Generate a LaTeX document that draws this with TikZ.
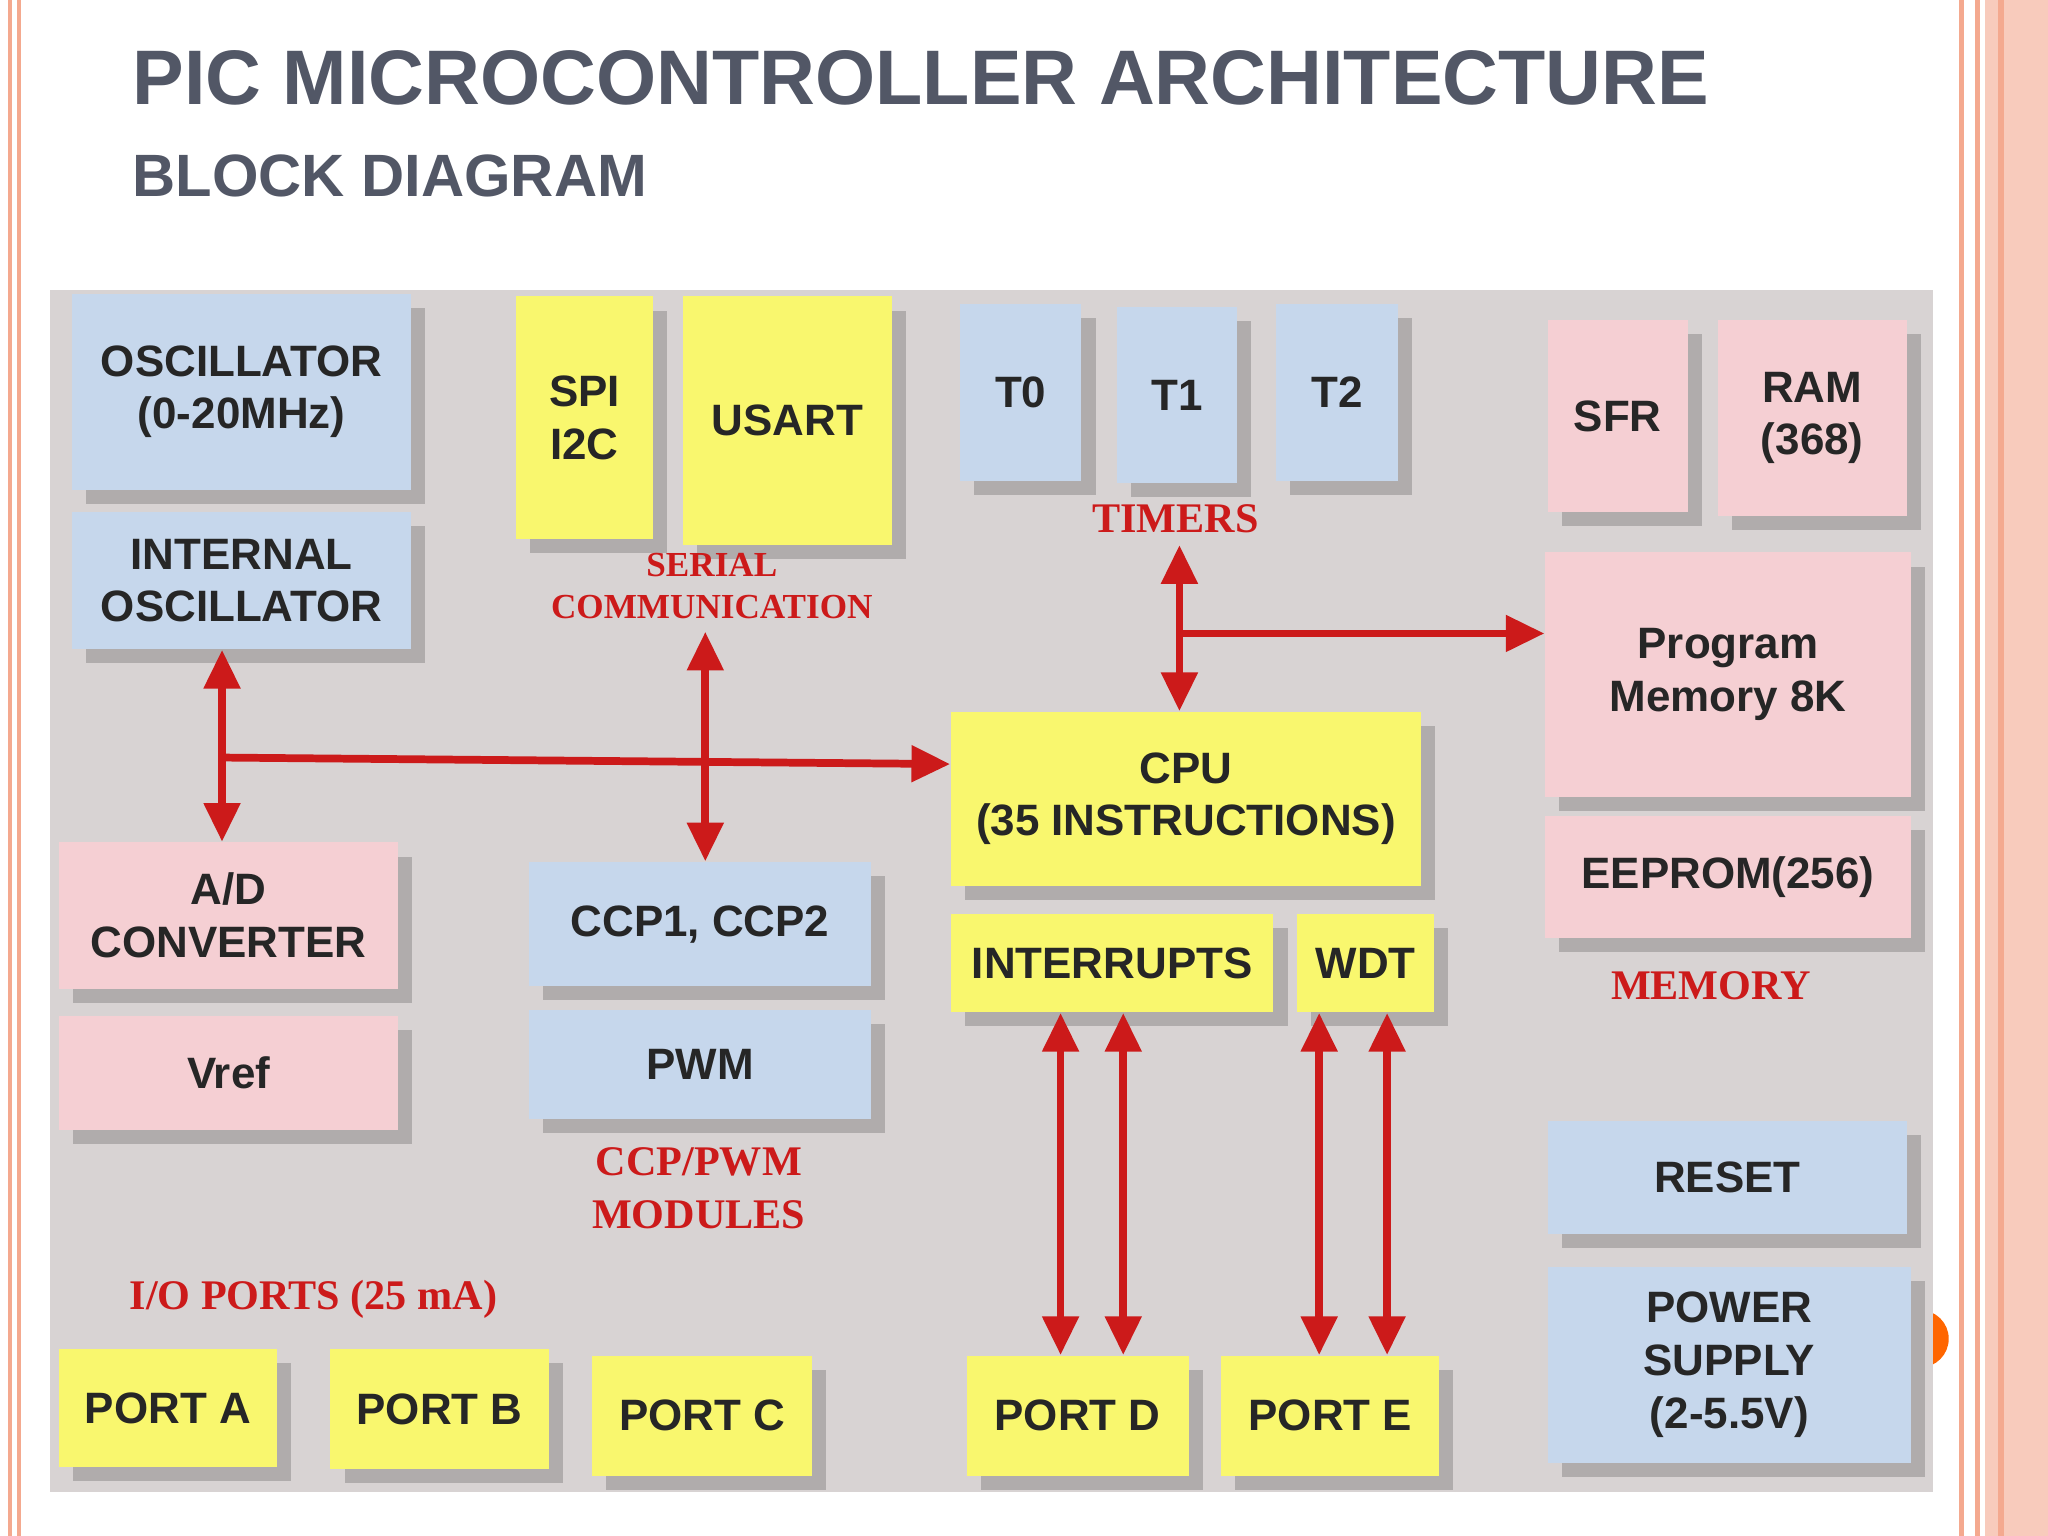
\documentclass[tikz,border=0pt]{standalone}
\usepackage{fontspec}
\setmainfont{Liberation Sans}
\newfontfamily\serifred{Liberation Serif}
\usetikzlibrary{arrows.meta,shadows}
\definecolor{bluebox}{HTML}{C6D7EC}
\definecolor{yelbox}{HTML}{F9F76E}
\definecolor{pinkbox}{HTML}{F5CFD3}
\definecolor{panel}{HTML}{D8D3D3}
\definecolor{arrred}{HTML}{CC1A1A}
\definecolor{titlec}{HTML}{525766}
\definecolor{salmon}{HTML}{F4A98F}
\newcommand\blk[7]{\node[box,fill=#6,minimum width={(#4-#2)*0.01306cm},
  minimum height={(#5-#3)*0.01306cm}] (#1) at ({(#2+#4)/2},{(#3+#5)/2}) {#7};}
\begin{document}
\begin{tikzpicture}[x=0.01306cm,y=-0.01306cm,
  box/.style={rectangle,inner sep=0pt,align=center,font=\fontsize{12.5}{15}\selectfont\bfseries,
    text=black!85,drop shadow={shadow xshift=4pt,shadow yshift=-4pt,opacity=0.35,fill=black!60}},
  lbl/.style={align=center,text=arrred,font=\serifred\fontsize{12}{13}\selectfont\bfseries},
  arr/.style={draw=arrred,line width=2.2pt,-{Triangle[length=11pt,width=10pt]}},
  darr/.style={arr,{Triangle[length=11pt,width=10pt]}-{Triangle[length=11pt,width=10pt]}}]
\useasboundingbox (0,0) rectangle (1568,1176);
% slide frame
\fill[salmon] (6,0) rectangle (9,1176);
\fill[salmon] (13,0) rectangle (16,1176);
\fill[salmon] (1500,0) rectangle (1504,1176);
\fill[salmon] (1512,0) rectangle (1516,1176);
\fill[salmon!60] (1520,0) rectangle (1568,1176);
\fill[salmon] (1530,0) rectangle (1534,1176);
\fill[orange!80!red] (1470,1025) circle (22);
\node[anchor=west,text=titlec,font=\fontsize{22}{26}\selectfont\bfseries] (title) at (92,60) {PIC MICROCONTROLLER ARCHITECTURE};
\node[anchor=west,text=titlec,font=\fontsize{17}{20}\selectfont\bfseries] (sub) at (92,135) {BLOCK DIAGRAM};
% panel
\fill[panel] (38,222) rectangle (1480,1142);
% blocks
\blk{osc}{55}{225}{315}{375}{bluebox}{OSCILLATOR\\(0-20MHz)}
\blk{int}{55}{392}{315}{497}{bluebox}{INTERNAL\\OSCILLATOR}
\blk{spi}{395}{227}{500}{413}{yelbox}{SPI\\I2C}
\blk{usart}{523}{227}{683}{417}{yelbox}{USART}
\blk{t0}{735}{233}{828}{368}{bluebox}{T0}
\blk{t1}{855}{235}{947}{370}{bluebox}{T1}
\blk{t2}{977}{233}{1070}{368}{bluebox}{T2}
\blk{sfr}{1185}{245}{1292}{392}{pinkbox}{SFR}
\blk{ram}{1315}{245}{1460}{395}{pinkbox}{RAM\\(368)}
\blk{prog}{1183}{423}{1463}{610}{pinkbox}{Program\\Memory 8K}
\blk{eep}{1183}{625}{1463}{718}{pinkbox}{EEPROM(256)}
\blk{reset}{1185}{858}{1460}{945}{bluebox}{RESET}
\blk{pow}{1185}{970}{1463}{1120}{bluebox}{POWER\\SUPPLY\\(2-5.5V)}
\blk{cpu}{728}{545}{1088}{678}{yelbox}{CPU\\(35 INSTRUCTIONS)}
\blk{irq}{728}{700}{975}{775}{yelbox}{INTERRUPTS}
\blk{wdt}{993}{700}{1098}{775}{yelbox}{WDT}
\blk{ad}{45}{645}{305}{757}{pinkbox}{A/D\\CONVERTER}
\blk{vref}{45}{778}{305}{865}{pinkbox}{Vref}
\blk{ccp}{405}{660}{667}{755}{bluebox}{CCP1, CCP2}
\blk{pwm}{405}{773}{667}{857}{bluebox}{PWM}
\blk{pa}{45}{1033}{212}{1123}{yelbox}{PORT A}
\blk{pb}{253}{1033}{420}{1125}{yelbox}{PORT B}
\blk{pc}{453}{1038}{622}{1130}{yelbox}{PORT C}
\blk{pd}{740}{1038}{910}{1130}{yelbox}{PORT D}
\blk{pe}{935}{1038}{1102}{1130}{yelbox}{PORT E}
% labels
\node[lbl] (ltim) at (900,397) {TIMERS};
\node[lbl,font=\serifred\fontsize{10}{12}\selectfont\bfseries] (lser) at (545,449) {SERIAL\\COMMUNICATION};
\node[lbl] (lmem) at (1310,755) {MEMORY};
\node[lbl,font=\serifred\fontsize{12}{15}\selectfont\bfseries] (lccp) at (535,910) {CCP/PWM\\MODULES};
\node[lbl] (lio) at (240,995) {I/O PORTS (25 mA)};
% connectors
\coordinate (xa) at (170,0);
\coordinate (xs) at (540,0);
\coordinate (xt) at (903,0);
\coordinate (ja) at (170,580);
\coordinate (jt) at (903,485);
\draw[darr] (int.south -| xa) -- (ad.north -| xa);
\draw[arr] (ja) -- (cpu.west |- 0,585);
\draw[darr] (lser.south -| xs) -- (ccp.north -| xs);
\draw[darr] (ltim.south -| xt) -- (cpu.north -| xt);
\draw[arr] (jt) -- (prog.west |- jt);
\foreach \x/\a/\b in {812/irq/pd,860/irq/pd,1010/wdt/pe,1062/wdt/pe}{
  \coordinate (xx) at (\x,0);
  \draw[darr] (\a.south -| xx) -- (\b.north -| xx);
}
\end{tikzpicture}
\end{document}
